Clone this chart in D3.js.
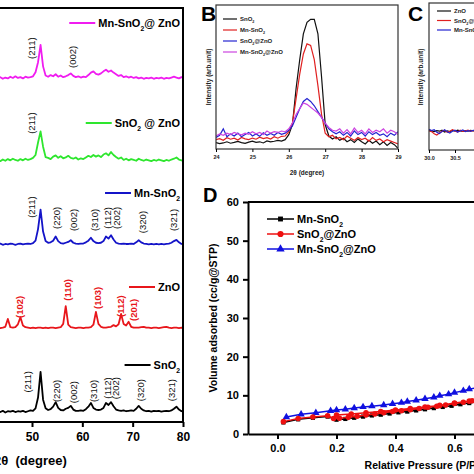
<!DOCTYPE html>
<html>
<head>
<meta charset="utf-8">
<script src="https://cdn.jsdelivr.net/npm/d3@7"></script>
<style>
  body { margin: 0; background: #fff; }
  svg { display: block; font-family: Arial, "Liberation Sans", sans-serif; }
</style>
</head>
<body>
<div id="chart"></div>
<script>
// ---------- data : panel A (XRD, stacked) ----------
var thetaA = [43.2,43.7,44.2,44.7,45.2,45.7,46.2,46.7,47.2,47.7,48.2,48.7,49.2,49.7,50.2,50.7,51.2,51.7,52.2,52.7,
  53.2,53.7,54.2,54.7,55.2,55.7,56.2,56.7,57.2,57.7,58.2,58.7,59.2,59.7,60.2,60.7,61.2,61.7,62.2,62.7,
  63.2,63.7,64.2,64.7,65.2,65.7,66.2,66.7,67.2,67.7,68.2,68.7,69.2,69.7,70.2,70.7,71.2,71.7,72.2,72.7,
  73.2,73.7,74.2,74.7,75.2,75.7,76.2,76.7,77.2,77.7,78.2,78.7,79.2,79.7,80.2];
var sno2A = [0.2,0.0,0.3,-0.1,0.2,0.1,0.3,0.0,0.2,0.1,0.3,0.0,0.2,0.4,0.3,0.9,
  3.5,9.7,3.0,0.9,0.5,0.7,1.3,2.4,1.0,0.5,0.4,0.8,1.0,1.5,0.6,0.3,
  0.3,0.4,0.3,0.7,1.3,2.2,1.0,0.6,0.5,0.6,1.0,2.2,1.7,2.4,1.4,0.6,
  0.4,0.3,0.4,0.2,0.3,0.4,0.3,0.8,1.5,0.8,0.4,0.2,0.3,0.1,0.3,0.2,
  0.3,0.1,0.2,0.3,0.2,0.4,0.8,1.3,0.6,0.2,0.1];
var znoA = [0.1,0.0,0.1,0.3,2.2,0.2,0.1,0.2,0.9,2.6,0.6,0.2,0.1,0.0,0.1,0.0,
  0.1,0.1,0.0,0.1,0.0,0.1,0.1,0.0,0.1,0.2,1.0,5.3,0.8,0.2,0.1,0.0,
  0.1,0.1,0.0,0.1,0.1,0.2,0.8,3.9,1.0,0.3,0.1,0.1,0.2,0.3,0.7,0.4,
  0.9,3.4,1.0,0.6,1.5,0.3,0.1,0.1,0.1,0.2,0.3,0.1,0.1,0.0,0.1,0.1,
  0.0,0.1,0.2,0.3,0.1,0.0,0.1,0.1,0.0,0.1,0.0];
var mnSno2A = [0.1,0.3,0.0,0.2,0.1,0.3,0.2,0.0,0.2,0.3,0.1,0.2,0.3,0.2,0.4,1.0,
  3.8,8.5,3.2,0.9,0.5,0.6,1.0,2.0,0.9,0.4,0.3,0.5,0.7,1.1,0.5,0.3,
  0.2,0.3,0.3,0.6,1.0,1.7,0.9,0.5,0.4,0.5,0.9,2.0,1.5,2.3,1.3,0.5,
  0.3,0.2,0.3,0.2,0.2,0.3,0.2,0.6,1.1,0.6,0.3,0.2,0.1,0.2,0.1,0.2,
  0.1,0.2,0.1,0.2,0.3,0.5,0.9,1.2,0.6,0.2,0.1];
var sno2ZnoA = [0.2,0.0,0.4,0.1,0.5,0.2,0.6,0.3,0.1,0.5,0.2,0.6,0.3,0.5,0.8,1.5,
  4.5,7.2,3.5,1.0,0.8,0.5,1.1,1.4,0.8,1.2,0.7,0.9,1.3,0.8,0.6,0.9,
  0.4,0.7,0.5,0.9,1.3,1.0,1.5,1.1,1.4,1.0,1.6,1.9,1.4,2.2,1.5,1.0,
  0.6,0.9,0.3,0.6,0.2,0.5,0.3,0.1,0.6,0.3,0.1,0.4,0.2,0.0,0.3,0.1,
  0.4,0.2,0.0,0.3,0.1,0.4,0.6,0.9,0.4,0.2,0.0];
var mnSno2ZnoA = [0.1,0.4,0.0,0.3,0.1,0.5,0.2,0.6,0.2,0.4,0.1,0.5,0.3,0.4,0.6,1.6,
  4.0,8.2,3.0,0.8,0.5,0.9,0.6,1.1,0.5,0.8,0.4,0.6,0.9,1.3,0.7,0.4,
  0.6,0.3,0.5,0.4,0.9,1.5,1.8,1.2,1.0,1.3,1.8,2.2,1.7,2.0,1.5,1.1,
  0.7,0.9,0.4,0.6,0.3,0.5,0.2,0.4,0.1,0.3,0.0,0.2,0.1,0.3,0.0,0.2,
  0.1,0.3,0.0,0.2,0.1,0.3,0.5,0.3,0.1,0.4,0.2];
var xTicksA = [50, 60, 70, 80];

// peak labels: [2theta, level, text]
var hklSno2 = [[49.2,9.7,"(211)"],[55.0,7.5,"(220)"],[58.2,7.2,"(002)"],[62.2,7.5,"(310)"],
  [65.0,8.2,"(112)"],[66.6,8.2,"(202)"],[71.6,7.7,"(320)"],[77.8,7.7,"(321)"]];
var hklZno = [[47.6,27.8,"(102)"],[57.0,31.9,"(110)"],[63.0,30.0,"(103)"],[67.6,28.0,"(112)"],[70.2,27.1,"(201)"]];
var hklMn = [[50.0,51.9,"(211)"],[55.0,49.3,"(220)"],[58.2,48.8,"(002)"],[62.4,48.8,"(310)"],
  [65.0,49.3,"(112)"],[66.8,49.3,"(202)"],[72.0,48.3,"(320)"],[78.2,48.8,"(321)"]];
var hklSnZn = [[50.0,72.2,"(211)"]];
var hklMnZn = [[50.0,90.3,"(211)"],[58.0,88.2,"(002)"]];

// ---------- data : panel B (zoom 24-29) ----------
var thetaB = [24.0,24.1,24.2,24.3,24.4,24.5,24.6,24.7,24.8,24.9,25.0,25.1,25.2,25.3,25.4,25.5,25.6,25.7,25.8,25.9,
  26.0,26.1,26.2,26.3,26.4,26.5,26.6,26.7,26.8,26.9,27.0,27.1,27.2,27.3,27.4,27.5,27.6,27.7,27.8,27.9,
  28.0,28.1,28.2,28.3,28.4,28.5,28.6,28.7,28.8,28.9,29.0];
var sno2B = [4.5,3.8,4.2,5.0,4.0,4.6,5.3,4.4,3.9,4.8,5.5,4.6,5.0,4.2,5.6,4.9,5.4,6.0,5.5,6.5,
  10,17,42,62,80,88,90,90,80,50,17,
  9,7,8.5,6.0,7.5,5.0,6.5,4.5,7.0,5.0,3.5,6.0,4.0,5.5,3.0,5.0,2.5,4.5,3.0,0.5];
var mnSno2B = [6.5,7.2,6.0,7.8,6.8,7.5,6.2,8.0,7.0,6.5,7.6,6.8,8.2,7.2,7.9,6.9,8.5,7.5,8.8,9.0,
  12,18,35,52,66,73,72,62,44,24,11,
  8.5,9.5,7.0,8.0,6.5,9.0,7.5,6.0,8.0,6.5,7.5,5.5,8.0,6.0,7.0,5.0,6.5,5.5,4.5,3.5];
var sno2ZnoB = [8.0,9.5,14.0,8.5,10.5,9.0,11.0,8.5,10.0,11.5,9.0,10.5,8.8,11.2,9.5,10.8,9.5,11.5,10.2,11.0,
  13,16,22,28,33,35,33,30,26,22,18,
  14,12,10.5,12.0,9.5,11.5,9.0,12.5,10.0,11.5,9.0,12.0,10.0,11.5,9.5,10.5,8.5,11.0,9.5,12.0];
var mnSno2ZnoB = [9.0,10.5,9.5,11.0,10.0,11.5,10.5,9.8,11.0,10.2,12.0,10.5,11.5,10.0,12.5,11.0,12.0,11.5,12.5,12.0,
  14,18,24,28,32,31,29,27,25,22,18,
  15,13,12.5,14.0,11.0,13.5,10.5,14.5,11.5,13.0,10.5,14.0,11.5,13.0,12.0,14.0,11.0,13.0,12.0,10.0];
var xTicksB = [24, 25, 26, 27, 28, 29];

// ---------- data : panel C (zoom 30-31) ----------
var thetaC = [30.00,30.05,30.10,30.15,30.20,30.25,30.30,30.35,30.40,30.45,30.50,30.55,30.60,30.65,30.70,30.75,30.80,30.85,30.90];
var znoC = [13.5,13.0,12.5,13.2,12.8,13.5,12.2,13.0,12.5,13.3,12.8,13.5,13.0,12.6,13.2,12.9,13.4,13.0,12.8];
var sno2ZnoC = [13.0,12.5,11.0,10.2,11.5,12.8,13.5,12.0,12.8,13.8,13.0,12.2,13.4,12.6,13.0,13.5,12.8,13.2,13.0];
var mnSno2ZnoC = [14.0,13.2,13.8,12.0,11.2,12.5,13.8,12.4,11.6,12.8,13.5,12.2,12.9,13.6,12.5,13.1,12.7,13.4,13.0];
var xTicksC = [30.0, 30.5, 31.0];

// ---------- data : panel D (N2 isotherms) ----------
var pMn = [0.02,0.07,0.12,0.17,0.20,0.23,0.26,0.29,0.32,0.35,0.38,0.41,0.44,0.47,0.50,0.53,0.56,0.59,0.62,0.65,0.68];
var vMn = [3.0,3.8,4.2,4.5,3.7,3.9,4.2,4.5,4.8,5.0,5.3,5.6,5.8,6.1,6.4,6.7,7.0,7.3,7.7,8.0,8.4];
var pSnZn = [0.02,0.07,0.12,0.17,0.19,0.21,0.24,0.27,0.30,0.33,0.36,0.39,0.42,0.45,0.48,0.51,0.54,0.57,0.60,0.63,0.66,0.70,
  0.65,0.60,0.55,0.50,0.45,0.40,0.35,0.30,0.25,0.20];
var vSnZn = [3.2,4.0,4.4,4.7,4.0,4.1,4.3,4.6,4.9,5.2,5.5,5.8,6.0,6.3,6.6,6.9,7.2,7.5,7.9,8.2,8.6,9.0,
  8.5,8.0,7.4,7.0,6.6,6.2,5.8,5.5,5.2,4.9];
var pMnZn = [0.03,0.08,0.13,0.18,0.20,0.23,0.26,0.29,0.32,0.36,0.39,0.42,0.44,0.47,0.50,0.53,0.55,0.58,0.60,0.63,0.65,0.68,0.72];
var vMnZn = [4.4,5.1,5.5,6.0,6.2,6.4,6.7,7.0,7.2,7.5,7.8,8.1,8.4,8.7,9.1,9.5,9.9,10.3,10.7,11.2,11.6,12.0,12.6];
var xTicksD = [0.0, 0.2, 0.4, 0.6, 0.8, 1.0];
var yTicksD = [0, 10, 20, 30, 40, 50, 60];

// ---------- setup ----------
var svg = d3.select("#chart").append("svg").attr("width", 474).attr("height", 474);
svg.append("rect").attr("width", 474).attr("height", 474).attr("fill", "#fff");
var defs = svg.append("defs");

// writes "SnO_2" style strings with subscripts
function rich(sel, str) {
  str.split("_2").forEach(function(p, i) {
    if (i > 0) sel.append("tspan").attr("baseline-shift", "sub").attr("font-size", "62%").text("2");
    sel.append("tspan").text(p);
  });
  return sel;
}

// ================= PANEL A =================
var xA = d3.scaleLinear().domain([50, 80]).range([32, 183]);
var yA = d3.scaleLinear().domain([0, 100]).range([422, 8]);

defs.append("clipPath").attr("id", "clipA").append("rect")
  .attr("x", -20).attr("y", 8).attr("width", 203).attr("height", 414);

var seriesA = [
  {vals: sno2A, off: 2.4, color: "#000000", name: "SnO_2", ly: 365},
  {vals: znoA, off: 22.7, color: "#e8161b", name: "ZnO", ly: 287},
  {vals: mnSno2A, off: 42.8, color: "#1414c8", name: "Mn-SnO_2", ly: 193},
  {vals: sno2ZnoA, off: 63, color: "#2ee62e", name: "SnO_2 @ ZnO", ly: 123},
  {vals: mnSno2ZnoA, off: 82.9, color: "#f01cf0", name: "Mn-SnO_2@ ZnO", ly: 23}
];

var gA = svg.append("g");
var tracesA = gA.append("g").attr("clip-path", "url(#clipA)");
seriesA.forEach(function(s) {
  tracesA.append("path")
    .datum(s.vals)
    .attr("d", d3.line()
      .x(function(d, i) { return xA(thetaA[i]); })
      .y(function(d) { return yA(d + s.off); }))
    .attr("fill", "none")
    .attr("stroke", s.color)
    .attr("stroke-width", 1.8)
    .attr("stroke-linejoin", "round");
});

// frame
gA.append("rect").attr("x", -20).attr("y", 8).attr("width", 203).attr("height", 414)
  .attr("fill", "none").attr("stroke", "#000").attr("stroke-width", 2);

var axA = gA.append("g").attr("transform", "translate(0,422)")
  .call(d3.axisBottom(xA).tickValues(xTicksA).tickSize(5).tickPadding(5).tickSizeOuter(0));
axA.select(".domain").remove();
axA.selectAll("line").attr("stroke-width", 2);
axA.selectAll("text").attr("font-size", 12).attr("font-weight", "bold").attr("font-family", "Arial, 'Liberation Sans', sans-serif");

gA.append("text").attr("x", -6).attr("y", 465)
  .attr("font-size", 13).attr("font-weight", "bold").style("white-space", "pre")
  .text("2\u03b8  (degree)");

// legends A
seriesA.forEach(function(s) {
  var t = gA.append("text").attr("x", 180).attr("y", s.ly + 4)
    .attr("text-anchor", "end").attr("font-size", 11).attr("font-weight", "bold");
  rich(t, s.name);
  var w = t.node().getComputedTextLength();
  gA.append("line").attr("x1", 180 - w - 29).attr("x2", 180 - w - 3)
    .attr("y1", s.ly).attr("y2", s.ly)
    .attr("stroke", s.color).attr("stroke-width", 2);
});

// hkl labels
function hkl(list, color, bold) {
  list.forEach(function(h) {
    gA.append("text")
      .attr("transform", "translate(" + xA(h[0]) + "," + yA(h[1]) + ") rotate(-90)")
      .attr("dy", "0.35em").attr("text-anchor", "middle")
      .attr("font-size", 9.5).attr("font-weight", bold ? "bold" : "normal")
      .attr("fill", color).text(h[2]);
  });
}
hkl(hklSno2, "#111", false);
hkl(hklZno, "#e8161b", true);
hkl(hklMn, "#111", false);
hkl(hklSnZn, "#111", false);
hkl(hklMnZn, "#111", false);

// ================= PANEL B =================
var xB = d3.scaleLinear().domain([24, 29]).range([216, 398]);
var yB = d3.scaleLinear().domain([0, 100]).range([149, 5]);
defs.append("clipPath").attr("id", "clipB").append("rect")
  .attr("x", 216).attr("y", 5).attr("width", 182).attr("height", 144);

var seriesB = [
  {vals: sno2B, color: "#111111", name: "SnO_2"},
  {vals: mnSno2B, color: "#e02020", name: "Mn-SnO_2"},
  {vals: sno2ZnoB, color: "#2424d0", name: "SnO_2@ZnO"},
  {vals: mnSno2ZnoB, color: "#cc44e0", name: "Mn-SnO_2@ZnO"}
];
var gB = svg.append("g");
var trB = gB.append("g").attr("clip-path", "url(#clipB)");
seriesB.forEach(function(s, k) {
  trB.append("path").datum(s.vals)
    .attr("d", d3.line().x(function(d, i) { return xB(thetaB[i]); }).y(function(d) { return yB(d); }))
    .attr("fill", "none").attr("stroke", s.color).attr("stroke-width", 1.2);
  gB.append("line").attr("x1", 223).attr("x2", 237)
    .attr("y1", 19 + k * 11).attr("y2", 19 + k * 11)
    .attr("stroke", s.color).attr("stroke-width", 1.2);
  rich(gB.append("text").attr("x", 240).attr("y", 21 + k * 11)
    .attr("font-size", 6).attr("font-weight", "bold").attr("fill", "#222"), s.name);
});
gB.append("rect").attr("x", 216).attr("y", 5).attr("width", 182).attr("height", 144)
  .attr("fill", "none").attr("stroke", "#333").attr("stroke-width", 1.2);
var axB = gB.append("g").attr("transform", "translate(0,149)")
  .call(d3.axisBottom(xB).tickValues(xTicksB).tickFormat(d3.format("d")).tickSize(3).tickPadding(3).tickSizeOuter(0));
axB.select(".domain").remove();
axB.selectAll("text").attr("font-size", 5.5).attr("font-weight", "bold").attr("fill", "#222");
gB.append("text").attr("x", 307).attr("y", 175).attr("text-anchor", "middle")
  .attr("font-size", 6.5).attr("font-weight", "bold").attr("fill", "#222").text("2\u03b8 (degree)");
gB.append("text").attr("transform", "translate(209,77) rotate(-90)").attr("dy", "0.35em")
  .attr("text-anchor", "middle").attr("font-size", 6.5).attr("font-weight", "bold").attr("fill", "#222")
  .text("Intensity (arb.unit)");
gB.append("text").attr("x", 201).attr("y", 21).attr("font-size", 21).attr("font-weight", "bold").text("B");

// ================= PANEL C =================
var xC = d3.scaleLinear().domain([30, 31]).range([429, 481]);
var yC = d3.scaleLinear().domain([0, 100]).range([150, 3]);
var seriesC = [
  {vals: znoC, color: "#111111", name: "ZnO"},
  {vals: sno2ZnoC, color: "#e02020", name: "SnO_2@ZnO"},
  {vals: mnSno2ZnoC, color: "#2424d0", name: "Mn-SnO_2@ZnO"}
];
var gC = svg.append("g");
seriesC.forEach(function(s, k) {
  gC.append("path").datum(s.vals)
    .attr("d", d3.line().x(function(d, i) { return xC(thetaC[i]); }).y(function(d) { return yC(d); }))
    .attr("fill", "none").attr("stroke", s.color).attr("stroke-width", 1.2);
  gC.append("line").attr("x1", 437).attr("x2", 451)
    .attr("y1", 11 + k * 9.5).attr("y2", 11 + k * 9.5)
    .attr("stroke", s.color).attr("stroke-width", 1.2);
  rich(gC.append("text").attr("x", 454).attr("y", 13 + k * 9.5)
    .attr("font-size", 6).attr("font-weight", "bold").attr("fill", "#222"), s.name);
});
gC.append("rect").attr("x", 429).attr("y", 3).attr("width", 80).attr("height", 147)
  .attr("fill", "none").attr("stroke", "#333").attr("stroke-width", 1.2);
var axC = gC.append("g").attr("transform", "translate(0,150)")
  .call(d3.axisBottom(xC).tickValues(xTicksC).tickFormat(d3.format(".1f")).tickSize(3).tickPadding(3).tickSizeOuter(0));
axC.select(".domain").remove();
axC.selectAll("text").attr("font-size", 5.5).attr("font-weight", "bold").attr("fill", "#222");
gC.append("text").attr("transform", "translate(421,77) rotate(-90)").attr("dy", "0.35em")
  .attr("text-anchor", "middle").attr("font-size", 6.5).attr("font-weight", "bold").attr("fill", "#222")
  .text("Intensity (arb.unit)");
gC.append("text").attr("x", 408).attr("y", 21).attr("font-size", 21).attr("font-weight", "bold").text("C");

// ================= PANEL D =================
var xD = d3.scaleLinear().domain([-0.1, 1.1]).range([248, 602]);
var yD = d3.scaleLinear().domain([0, 60]).range([434, 202]);
var gD = svg.append("g");

gD.append("line").attr("x1", 248).attr("x2", 602).attr("y1", 202).attr("y2", 202)
  .attr("stroke", "#000").attr("stroke-width", 2);
var axDy = gD.append("g").attr("transform", "translate(248,0)")
  .call(d3.axisLeft(yD).tickValues(yTicksD).tickSize(5).tickPadding(4).tickSizeOuter(0));
var axDx = gD.append("g").attr("transform", "translate(0,434)")
  .call(d3.axisBottom(xD).tickValues(xTicksD).tickFormat(d3.format(".1f")).tickSize(5).tickPadding(5).tickSizeOuter(0));
[axDy, axDx].forEach(function(a) {
  a.select(".domain").attr("stroke-width", 2);
  a.selectAll("line").attr("stroke-width", 2);
  a.selectAll("text").attr("font-size", 11).attr("font-weight", "bold").attr("font-family", "Arial, 'Liberation Sans', sans-serif");
});

var seriesD = [
  {p: pMn, v: vMn, color: "#000000", name: "Mn-SnO_2", sym: d3.symbolSquare, size: 18},
  {p: pMnZn, v: vMnZn, color: "#1010e0", name: "Mn-SnO_2@ZnO", sym: d3.symbolTriangle, size: 24},
  {p: pSnZn, v: vSnZn, color: "#ee1010", name: "SnO_2@ZnO", sym: d3.symbolCircle, size: 24}
];
var legendOrder = [0, 2, 1];
seriesD.forEach(function(s) {
  var pts = s.p.map(function(p, i) { return [p, s.v[i]]; });
  gD.append("path").datum(pts)
    .attr("d", d3.line().x(function(d) { return xD(d[0]); }).y(function(d) { return yD(d[1]); }))
    .attr("fill", "none").attr("stroke", s.color).attr("stroke-width", 1.5);
  gD.selectAll(null).data(pts).enter().append("path")
    .attr("transform", function(d) { return "translate(" + xD(d[0]) + "," + yD(d[1]) + ")"; })
    .attr("d", d3.symbol().type(s.sym).size(s.size))
    .attr("fill", s.color);
});
legendOrder.forEach(function(idx, k) {
  var s = seriesD[idx], ly = 219 + k * 15;
  gD.append("line").attr("x1", 267).attr("x2", 294).attr("y1", ly).attr("y2", ly)
    .attr("stroke", s.color).attr("stroke-width", 1.5);
  gD.append("path").attr("transform", "translate(280.5," + ly + ")")
    .attr("d", d3.symbol().type(s.sym).size(s.size + 6)).attr("fill", s.color);
  rich(gD.append("text").attr("x", 297).attr("y", ly + 4)
    .attr("font-size", 11).attr("font-weight", "bold"), s.name);
});

gD.append("text").attr("transform", "translate(213,318) rotate(-90)").attr("dy", "0.35em")
  .attr("text-anchor", "middle").attr("font-size", 10.5).attr("font-weight", "bold")
  .text("Volume adsorbed (cc/g@STP)");
gD.append("text").attr("x", 425).attr("y", 469).attr("text-anchor", "middle")
  .attr("font-size", 10.5).attr("font-weight", "bold").text("Relative Pressure (P/P0)");
gD.append("text").attr("x", 203).attr("y", 202).attr("font-size", 20).attr("font-weight", "bold").text("D");
</script>
</body>
</html>
